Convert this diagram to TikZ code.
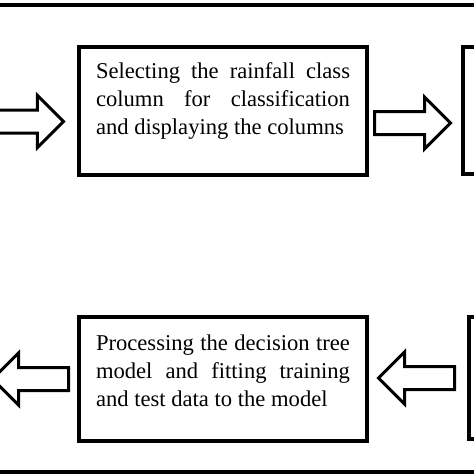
\documentclass[tikz,border=0pt]{standalone}
\usepackage{fontspec}
\setmainfont{Liberation Serif}
\usepackage{tikz}
\usetikzlibrary{shapes.arrows}

\newcommand{\steptext}[2]{\parbox[c][#1][t]{254pt}{\tolerance=9999\hbadness=10000 #2}}

\begin{document}
\begin{tikzpicture}[x=1pt,y=-1pt,
    stepbox/.style={draw, line width=4pt, minimum width=288pt, inner sep=0pt,
      font=\fontsize{22.6}{28}\selectfont},
    blockarrow/.style={draw, single arrow, line width=3pt, inner sep=10pt,
      single arrow head extend=14.5pt, minimum height=76pt, anchor=tail}]
      \useasboundingbox (0,0) rectangle (474,474);
      \clip (0,0) rectangle (474,474);

      % outer frame, only its top and bottom show
      \draw[line width=4.5pt] (-20,5) rectangle (494,472.5);

      \node[stepbox, minimum height=128pt] (select-col) at (223,111)
        {\steptext{97pt}{Selecting the rainfall class\linebreak
          column for classification\linebreak and displaying the columns}};
      \node[stepbox, minimum height=127pt] (next-step) at (607,110.5) {};
      \node[stepbox, minimum height=124pt] (fit-model) at (223,379)
        {\steptext{88pt}{Processing the decision tree\linebreak
          model and fitting training\linebreak and test data to the model}};
      \node[stepbox, minimum height=122pt] (prev-step) at (613,378) {};

      \coordinate (in-top)  at (-14,121.5);
      \coordinate (out-bot) at (-30,379);

      \path (in-top) -- node[blockarrow, pos=0] (arr-in) {} (select-col);
      \path ([shift={(4pt,-12pt)}]select-col.east) -- node[blockarrow, pos=0] (arr-next) {}
        ([yshift=-12pt]next-step.west);
      \path ([shift={(-11pt,0pt)}]prev-step.west) -- node[blockarrow, pos=0,
        shape border rotate=180] (arr-fit) {} (fit-model.east);
      \path ([xshift=-7pt]fit-model.west) -- node[blockarrow, pos=0,
        shape border rotate=180] (arr-out) {} (out-bot);
    \end{tikzpicture}
\end{document}
